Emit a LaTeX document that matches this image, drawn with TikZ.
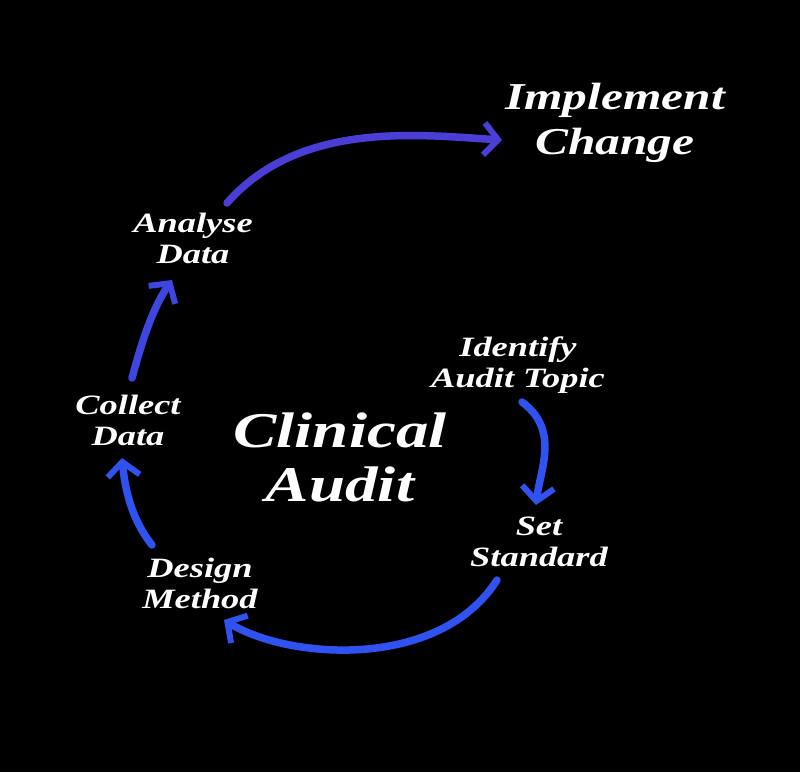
\documentclass[tikz,border=0pt]{standalone}
\usepackage{fontspec}
\setmainfont{Liberation Serif}
\newfontfamily\hand[FakeStretch=1.3]{Liberation Serif}
\usetikzlibrary{arrows.meta}
\definecolor{purp}{HTML}{4A3ED6}
\definecolor{blu}{HTML}{2F52F0}
\begin{document}
\begin{tikzpicture}[x=1pt,y=-1pt,
  lbl/.style={text=white,font=\hand\fontsize{28}{31}\selectfont\itshape\bfseries,align=center,inner sep=0pt},
  arr/.style={line width=7.5pt,line cap=round,-{Straight Barb[length=14pt,width=32pt,line width=6pt]}}]
\fill[black] (0,0) rectangle (800,772);
\node[lbl,font=\hand\fontsize{38}{45}\selectfont\itshape\bfseries] (impl) at (615,123) {Implement\\Change};
\node[lbl] (anal) at (193,238) {Analyse\\Data};
\node[lbl] (ident) at (518,365) {Identify\\Audit Topic};
\node[lbl,font=\hand\fontsize{50}{54}\selectfont\itshape\bfseries] (clin) at (340,457) {Clinical\\Audit};
\node[lbl] (coll) at (128,420) {Collect\\Data};
\node[lbl] (set) at (539,542) {Set\\Standard};
\node[lbl] (des) at (200,583) {Design\\Method};
\coordinate (a1) at (227,203); \coordinate (a2) at (502,140);
\coordinate (b1) at (132,378); \coordinate (b2) at (172,280);
\coordinate (c1) at (152,545); \coordinate (c2) at (122,458);
\coordinate (d1) at (497,580); \coordinate (d2) at (224,620);
\coordinate (e1) at (522,402); \coordinate (e2) at (536,505);
\draw[arr,purp] (a1) .. controls (300,120) and (420,135) .. (a2);
\draw[arr,purp!60!blu] (b1) .. controls (145,330) and (155,305) .. (b2);
\draw[arr,blu] (c1) .. controls (132,520) and (125,490) .. (c2);
\draw[arr,blu] (d1) .. controls (440,670) and (290,660) .. (d2);
\draw[arr,blu] (e1) .. controls (560,430) and (540,470) .. (e2);
\end{tikzpicture}
\end{document}
